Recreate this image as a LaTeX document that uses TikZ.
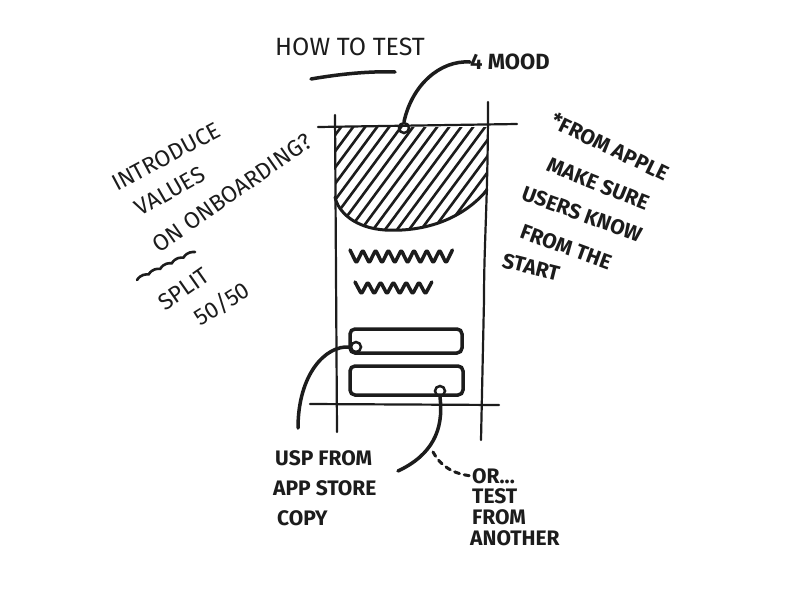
\documentclass[tikz,border=0pt]{standalone}
\usepackage{fontspec}
\setmainfont{Fira Sans}
\begin{document}
\begin{tikzpicture}[x=1pt,y=-1pt,
  ink/.style={draw=inkc, line width=3.5pt, line cap=round, line join=round},
  thin/.style={draw=inkc, line width=2.2pt, line cap=round},
  hand/.style={text=inkc, inner sep=0pt, font=\bfseries\fontsize{21}{22}\selectfont},
  handthin/.style={text=inkc, inner sep=0pt, font=\fontsize{23}{24}\selectfont},
  dot/.style={draw=inkc, line width=2.5pt, circle, minimum size=10pt, inner sep=0pt},
  bar/.style={draw=inkc, line width=3.5pt, rounded corners=5pt}]
\definecolor{inkc}{HTML}{1C1C1C}
\useasboundingbox[fill=white] (0,0) rectangle (800,600);

% title
\node[handthin, font=\fontsize{25}{26}\selectfont] (title) at (350,47) {HOW TO TEST};
\draw[ink] (311,79) .. controls (340,74) and (370,71) .. (395,72);

% phone frame
\draw[thin] (335,115) -- (337,432);
\draw[thin] (318,127) -- (517,124);
\draw[thin] (488,102) .. controls (488,200) and (484,240) .. (484,300) -- (481,440);
\draw[thin] (310,404) -- (499,405);

% hatched hero area
\begin{scope}
\clip (335,127) -- (487,127) -- (487,190) .. controls (460,222) and (420,232) .. (385,230) .. controls (355,228) and (338,212) .. (335,197) -- cycle;
\foreach \k in {0,...,22} { \draw[inkc, line width=2.6pt] (250+\k*12,250) -- ++(100,-135); }
\end{scope}
\draw[ink, line width=3pt] (487,190) .. controls (460,222) and (420,232) .. (385,230) .. controls (355,228) and (338,212) .. (335,197);

% squiggles
\draw[ink, rounded corners=2pt] (350,250) \foreach \i in {1,...,8} { -- ++(6.4,13) -- ++(6.4,-13) };
\draw[ink, rounded corners=2pt] (355,282) \foreach \i in {1,...,6} { -- ++(6.4,12) -- ++(6.4,-12) };

% buttons
\draw[bar] (350,329) rectangle (462,353);
\draw[bar] (350,366) rectangle (463,395);

% pointer dots
\node[dot] (dmood) at (404,128) {};
\node[dot] (dusp) at (356,347) {};
\node[dot] (dalt) at (440,391) {};

% labels
\node[hand, anchor=west, font=\bfseries\fontsize{22}{23}\selectfont] (mood) at (470,62) {4 MOOD};
\node[hand, anchor=west] (usp1) at (275,458) {USP FROM};
\node[hand, anchor=west] (usp2) at (273,488) {APP STORE};
\node[hand, anchor=west] (usp3) at (277,518) {COPY};
\node[hand, anchor=west] (or) at (472,476) {OR...};
\node[hand, anchor=west] (alt2) at (472,496) {TEST};
\node[hand, anchor=west] (alt3) at (472,517) {FROM};
\node[hand, anchor=west] (alt4) at (470,538) {ANOTHER};

\coordinate (uspend) at (298,428);
\coordinate (altend) at (398,471);
\coordinate (dashstart) at (433,452);

% connectors
\draw[ink] (mood.west) .. controls (440,60) and (412,85) .. (dmood.north);
\draw[ink] (dusp.west) .. controls (325,345) and (298,375) .. (uspend);
\draw[ink] (dalt.south) .. controls (444,430) and (432,455) .. (altend);
\draw[inkc, line width=3pt, dash pattern=on 5pt off 5pt, line cap=round] (dashstart) .. controls (440,465) and (452,474) .. (or.west);

% left notes
\node[handthin, rotate=28] (l1) at (166,157) {INTRODUCE};
\node[handthin, rotate=30] (l2) at (170,191) {VALUES};
\node[handthin, rotate=35] (l3) at (232,193) {ON ONBOARDING?};
\draw[inkc, line width=2.6pt, line cap=round] (137,280) \foreach \i in {1,...,5} { .. controls ++(4,-6) and ++(-3,0) .. ++(11.6,-5.6) };
\node[handthin, rotate=35] (l4) at (184,289) {SPLIT};
\node[handthin, rotate=32] (l5) at (222,304) {50/50};

% right notes
\node[hand, rotate=-26] (r1) at (610,147) {*FROM APPLE};
\node[hand, rotate=-22] (r2) at (598,184) {MAKE SURE};
\node[hand, rotate=-20] (r3) at (582,214) {USERS KNOW};
\node[hand, rotate=-20] (r4) at (566,247) {FROM THE};
\node[hand, rotate=-14] (r5) at (531,267) {START};
\end{tikzpicture}
\end{document}
